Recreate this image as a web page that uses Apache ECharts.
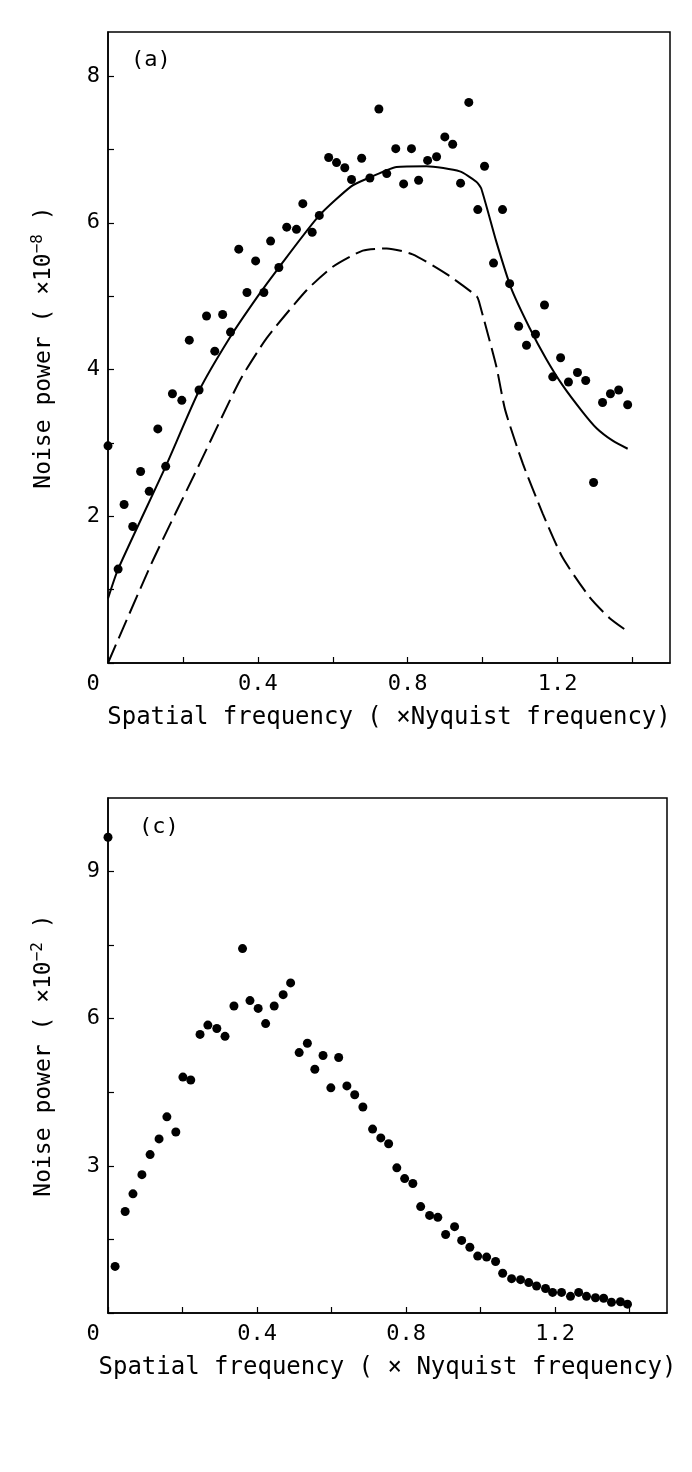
<!DOCTYPE html>
<html>
<head>
<meta charset="utf-8">
<script src="https://cdn.jsdelivr.net/npm/echarts@6/dist/echarts.min.js"></script>
<style>
  html, body { margin: 0; padding: 0; background: #fff; }
  #main { width: 692px; height: 1472px; }
</style>
</head>
<body>
<div id="main"></div>
<script>
// panel (a): measured points
var aX = [0.000, 0.027, 0.043, 0.066, 0.087, 0.110, 0.133, 0.154, 0.172, 0.197, 0.217, 0.243, 0.263, 0.285, 0.306, 0.327,
          0.349, 0.371, 0.394, 0.416, 0.434, 0.456, 0.477, 0.503, 0.520, 0.545, 0.564, 0.589, 0.610, 0.632, 0.650, 0.677,
          0.699, 0.723, 0.744, 0.768, 0.789, 0.810, 0.829, 0.853, 0.877, 0.899, 0.920, 0.941, 0.963, 0.987, 1.005, 1.029,
          1.053, 1.072, 1.096, 1.117, 1.141, 1.165, 1.187, 1.208, 1.229, 1.253, 1.275, 1.296, 1.320, 1.341, 1.363, 1.387];
var aY = [2.96, 1.28, 2.16, 1.86, 2.61, 2.34, 3.19, 2.68, 3.67, 3.58, 4.40, 3.72, 4.73, 4.25, 4.75, 4.51,
          5.64, 5.05, 5.48, 5.05, 5.75, 5.39, 5.94, 5.91, 6.26, 5.87, 6.10, 6.89, 6.82, 6.75, 6.59, 6.88,
          6.61, 7.55, 6.67, 7.01, 6.53, 7.01, 6.58, 6.85, 6.90, 7.17, 7.07, 6.54, 7.64, 6.18, 6.77, 5.45,
          6.18, 5.17, 4.59, 4.33, 4.48, 4.88, 3.90, 4.16, 3.83, 3.96, 3.85, 2.46, 3.55, 3.67, 3.72, 3.52];

// panel (a): solid curve
var solidX = [0, 0.027, 0.154, 0.243, 0.327, 0.40, 0.456, 0.564, 0.65, 0.70, 0.77, 0.85, 0.939, 0.983, 0.996,
              1.036, 1.076, 1.125, 1.17, 1.214, 1.267, 1.304, 1.347, 1.387];
var solidY = [0.88, 1.28, 2.68, 3.71, 4.45, 5.00, 5.39, 6.10, 6.50, 6.62, 6.76, 6.77, 6.70, 6.56, 6.47,
              5.75, 5.11, 4.57, 4.14, 3.78, 3.42, 3.20, 3.03, 2.92];

// panel (a): dashed curve
var dashX = [0, 0.12, 0.245, 0.352, 0.424, 0.53, 0.60, 0.68, 0.744, 0.813, 0.904, 0.984, 0.99,
             1.037, 1.06, 1.107, 1.16, 1.213, 1.285, 1.339, 1.387];
var dashY = [0, 1.40, 2.72, 3.85, 4.43, 5.08, 5.40, 5.62, 5.65, 5.57, 5.30, 5.00, 4.93,
             4.03, 3.45, 2.72, 2.04, 1.44, 0.90, 0.61, 0.43];

// panel (c): measured points
var cX = [0.000, 0.019, 0.046, 0.067, 0.091, 0.113, 0.137, 0.158, 0.182, 0.201, 0.222, 0.247, 0.268, 0.292, 0.314, 0.338,
          0.361, 0.381, 0.403, 0.423, 0.446, 0.470, 0.490, 0.513, 0.535, 0.555, 0.577, 0.598, 0.619, 0.641, 0.662, 0.684,
          0.710, 0.732, 0.753, 0.775, 0.796, 0.818, 0.839, 0.863, 0.885, 0.906, 0.930, 0.949, 0.971, 0.992, 1.016, 1.040,
          1.059, 1.083, 1.107, 1.129, 1.150, 1.174, 1.193, 1.217, 1.241, 1.263, 1.284, 1.308, 1.330, 1.351, 1.375, 1.394];
var cY = [9.70, 0.95, 2.07, 2.43, 2.82, 3.23, 3.55, 4.00, 3.69, 4.81, 4.75, 5.68, 5.87, 5.80, 5.64, 6.26,
          7.43, 6.37, 6.21, 5.90, 6.26, 6.49, 6.73, 5.31, 5.50, 4.97, 5.25, 4.59, 5.21, 4.63, 4.45, 4.20,
          3.75, 3.57, 3.45, 2.96, 2.74, 2.64, 2.17, 1.99, 1.95, 1.60, 1.76, 1.48, 1.34, 1.16, 1.14, 1.05,
          0.81, 0.70, 0.68, 0.62, 0.55, 0.50, 0.42, 0.42, 0.34, 0.42, 0.34, 0.31, 0.30, 0.22, 0.23, 0.18];

var xLabelTop = 'Spatial frequency ( ×Nyquist frequency)';
var xLabelBottom = 'Spatial frequency ( × Nyquist frequency)';
var yLabelTop = 'Noise power ( ×10{sup|−8} )';
var yLabelBottom = 'Noise power ( ×10{sup|−2} )';

var FONT = 'DejaVu Sans Mono';

function zip(xs, ys) {
    return xs.map(function (x, i) { return [x, ys[i]]; });
}
function isMult(v, step) {
    var r = v / step;
    return Math.abs(r - Math.round(r)) < 1e-6;
}

function xAxisCfg(gridIndex, name) {
    return {
        type: 'value',
        gridIndex: gridIndex,
        min: 0,
        max: 1.5,
        interval: 0.2,
        name: name,
        nameLocation: 'middle',
        nameGap: 43,
        nameTextStyle: { color: '#000', fontSize: 24, fontFamily: FONT },
        axisLine: { lineStyle: { color: '#000', width: 1.5 } },
        axisTick: { inside: true, length: 6, lineStyle: { color: '#000', width: 1.2 } },
        splitLine: { show: false },
        axisLabel: {
            color: '#000',
            fontSize: 22,
            fontFamily: FONT,
            margin: 10,
            showMaxLabel: false,
            formatter: function (v) {
                if (v === 0) return '{o|0}';
                if (isMult(v, 0.4) && v < 1.45) return (Math.round(v * 10) / 10).toFixed(1);
                return '';
            },
            rich: { o: { fontSize: 22, fontFamily: FONT, color: '#000', padding: [0, 30, 0, 0] } }
        }
    };
}

function yAxisCfg(gridIndex, name, max, step, labelStep) {
    return {
        type: 'value',
        gridIndex: gridIndex,
        min: 0,
        max: max,
        interval: step,
        name: name,
        nameLocation: 'middle',
        nameGap: 50,
        nameTextStyle: {
            color: '#000', fontSize: 23, fontFamily: FONT,
            rich: { sup: { color: '#000', fontSize: 16, fontFamily: FONT, padding: [0, 0, 12, 0] } }
        },
        axisLine: { lineStyle: { color: '#000', width: 1.5 } },
        axisTick: { inside: true, length: 6, lineStyle: { color: '#000', width: 1.2 } },
        splitLine: { show: false },
        axisLabel: {
            color: '#000',
            fontSize: 22,
            fontFamily: FONT,
            margin: 8,
            showMaxLabel: false,
            formatter: function (v) {
                if (v > 0 && isMult(v, labelStep)) return String(Math.round(v));
                return '';
            }
        }
    };
}

var chart = echarts.init(document.getElementById('main'), null, { renderer: 'canvas' });

var option = {
    backgroundColor: '#fff',
    animation: false,
    title: [
        { text: '(a)', left: 126, top: 44, textStyle: { fontSize: 22, fontWeight: 'normal', fontFamily: FONT, color: '#000' } },
        { text: '(c)', left: 134, top: 811, textStyle: { fontSize: 22, fontWeight: 'normal', fontFamily: FONT, color: '#000' } }
    ],
    grid: [
        { left: 108, right: 22, top: 32, height: 631, show: true, borderColor: '#000', borderWidth: 1.5 },
        { left: 108, right: 25, top: 798, height: 515, show: true, borderColor: '#000', borderWidth: 1.5 }
    ],
    xAxis: [
        xAxisCfg(0, xLabelTop),
        xAxisCfg(1, xLabelBottom)
    ],
    yAxis: [
        yAxisCfg(0, yLabelTop, 8.6, 1, 2),
        yAxisCfg(1, yLabelBottom, 10.5, 1.5, 3)
    ],
    series: [
        {
            type: 'line',
            xAxisIndex: 0, yAxisIndex: 0,
            data: zip(solidX, solidY),
            smooth: 0.2,
            showSymbol: false,
            lineStyle: { color: '#000', width: 2 }
        },
        {
            type: 'line',
            xAxisIndex: 0, yAxisIndex: 0,
            data: zip(dashX, dashY),
            smooth: 0.2,
            showSymbol: false,
            lineStyle: { color: '#000', width: 2, type: [20, 7] }
        },
        {
            type: 'scatter',
            xAxisIndex: 0, yAxisIndex: 0,
            data: zip(aX, aY),
            symbol: 'circle',
            symbolSize: 9,
            itemStyle: { color: '#000', opacity: 1 }
        },
        {
            type: 'scatter',
            xAxisIndex: 1, yAxisIndex: 1,
            data: zip(cX, cY),
            symbol: 'circle',
            symbolSize: 9,
            itemStyle: { color: '#000', opacity: 1 }
        }
    ]
};

chart.setOption(option);
</script>
</body>
</html>
